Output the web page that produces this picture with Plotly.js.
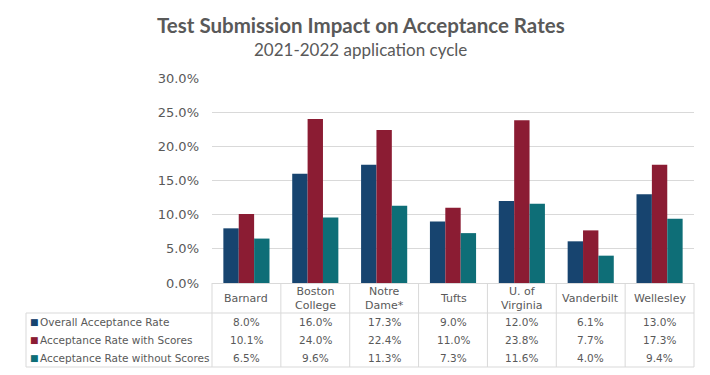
<!DOCTYPE html>
<html>
<head>
<meta charset="utf-8">
<script src="https://cdn.plot.ly/plotly-3.0.1.min.js"></script>
<style>html,body{margin:0;padding:0;background:#fff;}#chart{width:710px;height:375px;}</style>
</head>
<body>
<div id="chart"></div>
<script>
const categories = ["Barnard", "Boston College", "Notre Dame*", "Tufts", "U. of Virginia", "Vanderbilt", "Wellesley"];
const categoryLabels = ["Barnard", "Boston<br>College", "Notre<br>Dame*", "Tufts", "U. of<br>Virginia", "Vanderbilt", "Wellesley"];
const seriesNames = ["Overall Acceptance Rate", "Acceptance Rate with Scores", "Acceptance Rate without Scores"];
const overall = [8.0, 16.0, 17.3, 9.0, 12.0, 6.1, 13.0];
const withScores = [10.1, 24.0, 22.4, 11.0, 23.8, 7.7, 17.3];
const withoutScores = [6.5, 9.6, 11.3, 7.3, 11.6, 4.0, 9.4];
const colors = ["#17446f", "#8b1c33", "#0e6e77"];
const seriesValues = [overall, withScores, withoutScores];

const traces = seriesValues.map((vals, i) => ({
  type: "bar",
  name: seriesNames[i],
  x: categories,
  y: vals,
  marker: {color: colors[i], line: {width: 0}},
  hoverinfo: "skip"
}));

const gray = "#595959";
const lineColor = "#d9d9d9";
const plotTop = 78, plotBottom = 283, plotLeft = 212, plotRight = 694;
const ph = plotBottom - plotTop, pw = plotRight - plotLeft;
const py = p => (plotBottom - p) / ph;
const px = p => (p - plotLeft) / pw;

const annotations = [];
const shapes = [];
annotations.push({xref: "paper", yref: "paper", x: px(361), y: py(25), text: "<b>Test Submission Impact on Acceptance Rates</b>",
  showarrow: false, xanchor: "center", yanchor: "middle", font: {family: "Lato", size: 20.5, color: gray}});
annotations.push({xref: "paper", yref: "paper", x: px(360), y: py(49), text: "2021-2022 application cycle",
  showarrow: false, xanchor: "center", yanchor: "middle", font: {family: "Lato", size: 17, color: gray}});
// header category labels
categories.forEach((c, i) => {
  annotations.push({xref: "x", yref: "paper", x: c, y: py(298), text: categoryLabels[i],
    showarrow: false, xanchor: "center", yanchor: "middle",
    font: {family: "DejaVu Sans", size: 11, color: gray}});
});
const rowY = [322, 340, 358];
seriesValues.forEach((vals, r) => {
  annotations.push({xref: "paper", yref: "paper", x: px(28), y: py(rowY[r]), text: "■",
    showarrow: false, xanchor: "left", yanchor: "middle",
    font: {family: "DejaVu Sans", size: 9, color: colors[r]}});
  annotations.push({xref: "paper", yref: "paper", x: px(38), y: py(rowY[r]), text: seriesNames[r],
    showarrow: false, xanchor: "left", yanchor: "middle",
    font: {family: "DejaVu Sans", size: 10.5, color: gray}});
  vals.forEach((v, i) => {
    annotations.push({xref: "x", yref: "paper", x: categories[i], y: py(rowY[r]), text: v.toFixed(1) + "%",
      showarrow: false, xanchor: "center", yanchor: "middle",
      font: {family: "DejaVu Sans", size: 10.5, color: gray}});
  });
});
// table lines
const ln = (x0, y0, x1, y1) => shapes.push({type: "line", xref: "paper", yref: "paper",
  x0: px(x0), y0: py(y0), x1: px(x1), y1: py(y1), line: {color: lineColor, width: 1}});
ln(26, 313, plotRight, 313);
ln(26, 367, plotRight, 367);
ln(26, 313, 26, 367);
for (let i = 0; i <= categories.length; i++) {
  const x = plotLeft + pw * i / categories.length;
  ln(x, 283, x, 367);
}

const layout = {
  width: 710, height: 375,
  margin: {l: plotLeft, r: 710 - plotRight, t: plotTop, b: 375 - plotBottom},
  paper_bgcolor: "#fff", plot_bgcolor: "#fff",
  showlegend: false,
  barmode: "group",
  bargap: 0.33,
  bargroupgap: 0,
  xaxis: {showticklabels: false, ticks: "", showgrid: false, zeroline: false,
    showline: true, linecolor: lineColor, linewidth: 1, fixedrange: true},
  yaxis: {range: [0, 30], dtick: 5, tick0: 0, tickformat: ".1f", ticksuffix: "%",
    showgrid: true, gridcolor: lineColor, gridwidth: 1, zeroline: false, showline: false,
    ticks: "", ticklabelstandoff: 12,
    tickfont: {family: "DejaVu Sans", size: 13, color: gray}},
  annotations: annotations,
  shapes: shapes
};

Plotly.newPlot("chart", traces, layout, {staticPlot: true, displayModeBar: false});
</script>
</body>
</html>
